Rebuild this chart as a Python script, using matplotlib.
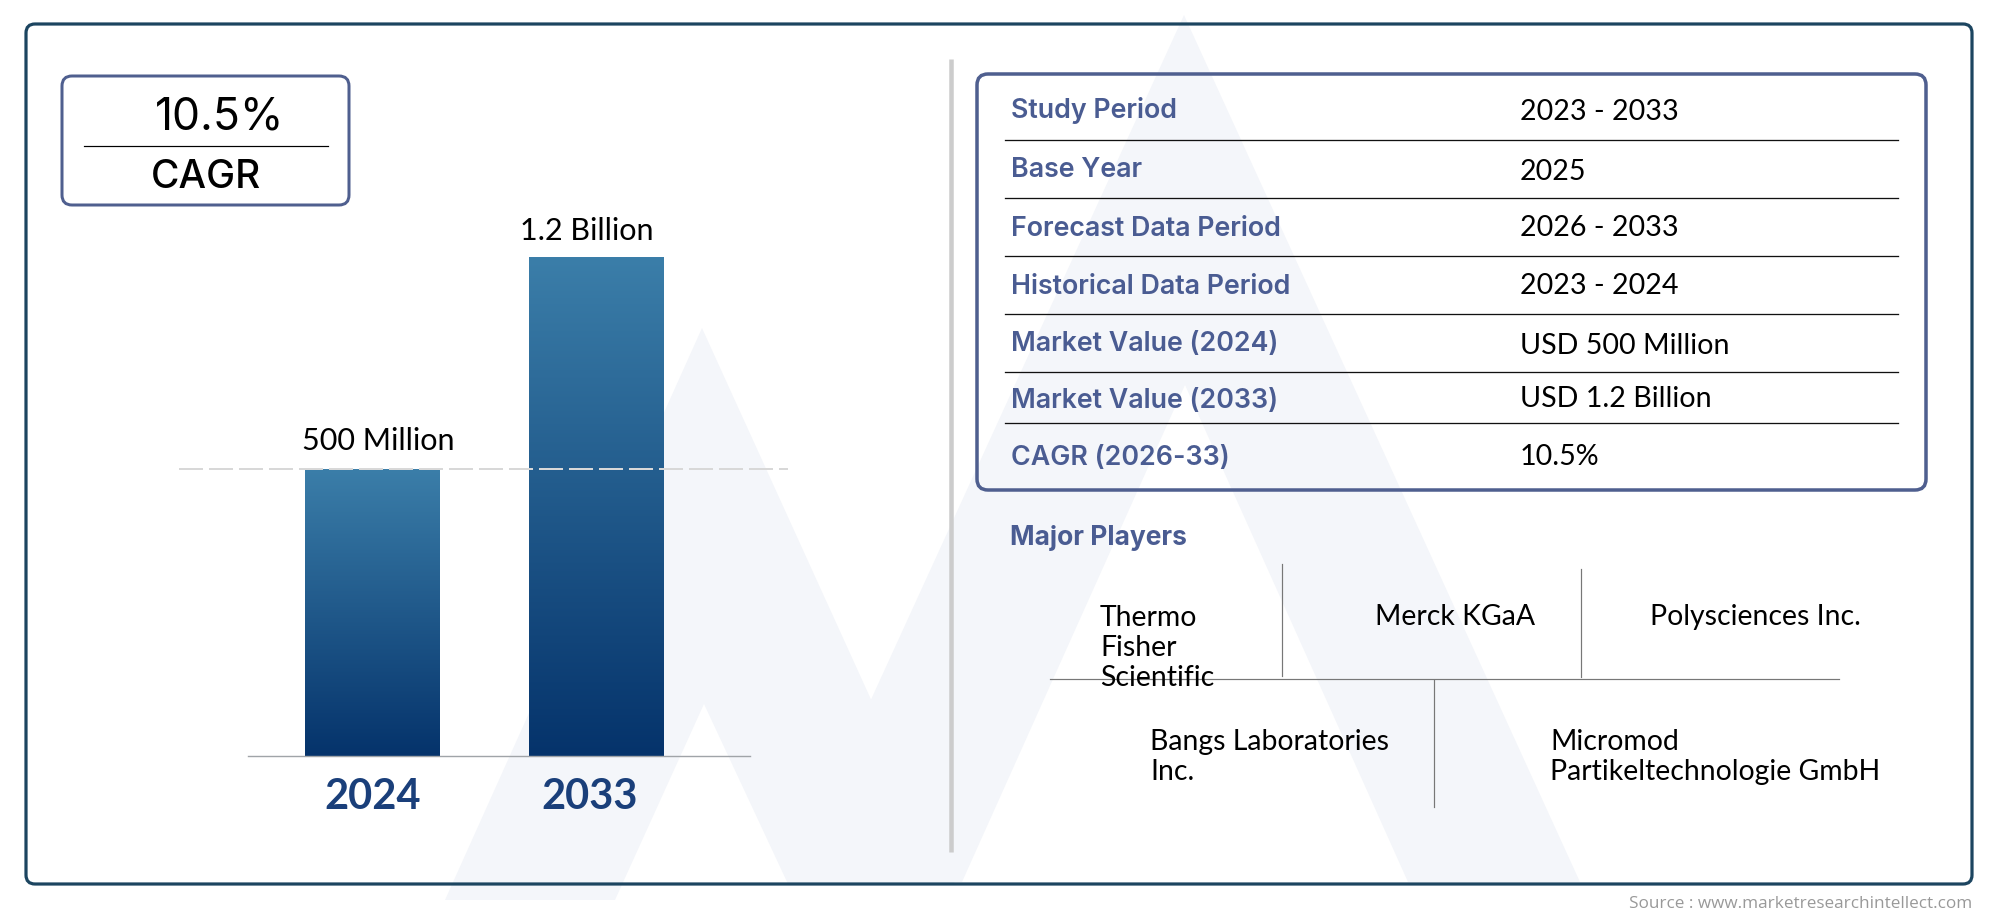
import numpy as np
import matplotlib
matplotlib.use("Agg")
import matplotlib.pyplot as plt
from matplotlib.colors import LinearSegmentedColormap
from matplotlib.patches import FancyBboxPatch, Polygon

# Datos
years = ["2024", "2033"]
bar_heights = [287, 499]  # alturas leidas de la imagen, no proporcionales a las etiquetas
bar_labels = ["500 Million", "1.2 Billion"]
cagr_value = "10.5%"
cagr_label = "CAGR"
table_labels = ["Study Period", "Base Year", "Forecast Data Period", "Historical Data Period",
                "Market Value (2024)", "Market Value (2033)", "CAGR (2026-33)"]
table_values = ["2023 - 2033", "2025", "2026 - 2033", "2023 - 2024",
                "USD 500 Million", "USD 1.2 Billion", "10.5%"]
players = [["Thermo", "Fisher", "Scientific"], ["Merck KGaA"], ["Polysciences Inc."],
           ["Bangs Laboratories", "Inc."], ["Micromod", "Partikeltechnologie GmbH"]]
source = "Source : www.marketresearchintellect.com"

W, H = 2000, 917
NAVY = "#1c4560"
SLATE = "#4f5f8f"
HEAD = "#4a5c92"
WATER = "#f4f6fa"
FONT = "Lato"
HEAD_FONT = "Inter"

fig = plt.figure(figsize=(W / 100, H / 100), dpi=100, facecolor="white")

# Capa de fondo en coordenadas de pixel
bg = fig.add_axes([0, 0, 1, 1])
bg.set_xlim(0, W)
bg.set_ylim(H, 0)
bg.axis("off")


def px(v):
    return v * 0.72


def caja(x0, y0, x1, y1, color, lw, radio, zorder=3):
    bg.add_patch(FancyBboxPatch((x0, y0), x1 - x0, y1 - y0,
                                boxstyle=f"round,pad=0,rounding_size={radio}",
                                fc="none", ec=color, lw=px(lw), zorder=zorder))


# Marca de agua
bg.add_patch(Polygon([(702, 328), (955, 884), (788, 884), (704, 704), (615, 900), (445, 900)],
                     closed=True, fc=WATER, ec="none", zorder=1))
bg.add_patch(Polygon([(1184, 15), (1580, 882), (1408, 882), (1185, 385), (962, 882), (945, 882), (858, 728)],
                     closed=True, fc=WATER, ec="none", zorder=1))

# Marco exterior y separador
caja(26, 24, 1972, 884, NAVY, 3.2, 9)
bg.plot([950.5, 950.5], [59, 852], color="#cccccc", lw=px(4.5), solid_capstyle="butt", zorder=2)

# Caja CAGR
caja(62, 76, 349, 205, SLATE, 3, 10)
bg.plot([84, 328], [146, 146], color="black", lw=px(1.2), zorder=3)
bg.text(220, 118, cagr_value, fontsize=32, family=HEAD_FONT, ha="center", va="center", color="black", zorder=4)
bg.text(206, 177, cagr_label, fontsize=28, family=HEAD_FONT, weight="medium", ha="center", va="center", color="black", zorder=4)

# Barras
bar_left, bar_right, bar_top, bar_base = 248, 750, 257, 756
ax = fig.add_axes([bar_left / W, 1 - bar_base / H, (bar_right - bar_left) / W, (bar_base - bar_top) / H], zorder=2)
ax.patch.set_alpha(0)
x = np.arange(len(years))
bars = ax.bar(x, bar_heights, width=0.605, color="none")
degradado = LinearSegmentedColormap.from_list("barra", ["#3b7ea9", "#05336b"])
for b in bars:
    x0, w, h = b.get_x(), b.get_width(), b.get_height()
    im = ax.imshow(np.linspace(0, 1, 256).reshape(-1, 1), cmap=degradado, aspect="auto",
                   extent=(x0, x0 + w, 0, h), origin="upper", zorder=2)
    im.set_clip_path(b)
ax.set_xlim(-0.56, 1.69)
ax.set_ylim(0, max(bar_heights))
for lado in ["top", "left", "right"]:
    ax.spines[lado].set_visible(False)
ax.spines["bottom"].set_color("#a0a4a8")
ax.spines["bottom"].set_linewidth(px(1.4))
ax.set_yticks([])
ax.set_xticks([0, 0.97])
ax.set_xticklabels(years, fontsize=30, family=FONT, weight="bold", color="#1a3f7a")
ax.tick_params(axis="x", length=0, pad=16)
ax.hlines(bar_heights[0], -0.87, 1.86, colors="#d8d8d8", lw=px(2), linestyles=(0, (12, 3)),
          clip_on=False, zorder=5)

bg.text(378, 441, bar_labels[0], fontsize=22, family=FONT, ha="center", va="center", color="black", zorder=4)
bg.text(587, 231, bar_labels[1], fontsize=22, family=FONT, ha="center", va="center", color="black", zorder=4)

# Tabla
caja(977, 74, 1926, 490, SLATE, 3.5, 11)
row_y = [140, 198, 256, 314, 372, 423]
for y in row_y:
    bg.plot([1005, 1898], [y, y], color="#111111", lw=px(1.3), zorder=3)
label_y = [110, 170, 229, 287, 344, 401, 458]
value_y = [112, 172, 228, 286, 346, 399, 457]
for etiqueta, valor, yl, yv in zip(table_labels, table_values, label_y, value_y):
    bg.text(1011, yl, etiqueta, fontsize=19.3, family=HEAD_FONT, weight="semibold", color=HEAD, va="center", zorder=4)
    bg.text(1520, yv, valor, fontsize=20.6, family=FONT, color="black", va="center", zorder=4)

# Principales actores
bg.text(1010, 538, "Major Players", fontsize=19, family=HEAD_FONT, weight="bold", color=HEAD, va="center", zorder=4)
bg.plot([1050, 1839], [679, 679], color="#777777", lw=px(1.2), zorder=3)
bg.plot([1282, 1282], [564, 676], color="#777777", lw=px(1.2), zorder=3)
bg.plot([1581, 1581], [569, 677], color="#777777", lw=px(1.2), zorder=3)
bg.plot([1434, 1434], [680, 807], color="#777777", lw=px(1.2), zorder=3)

player_pos = [(1100, 618), (1375, 617), (1650, 617), (1150, 742), (1550, 742)]
for lineas, (px0, py0) in zip(players, player_pos):
    for i, linea in enumerate(lineas):
        bg.text(px0, py0 + i * 30, linea, fontsize=20.4, family=FONT, color="black", va="center", zorder=4)

bg.text(1972, 904, source, fontsize=12.3, family="Open Sans", color="#999999", ha="right", va="center", zorder=4)

fig.savefig("out.png", dpi=100)
